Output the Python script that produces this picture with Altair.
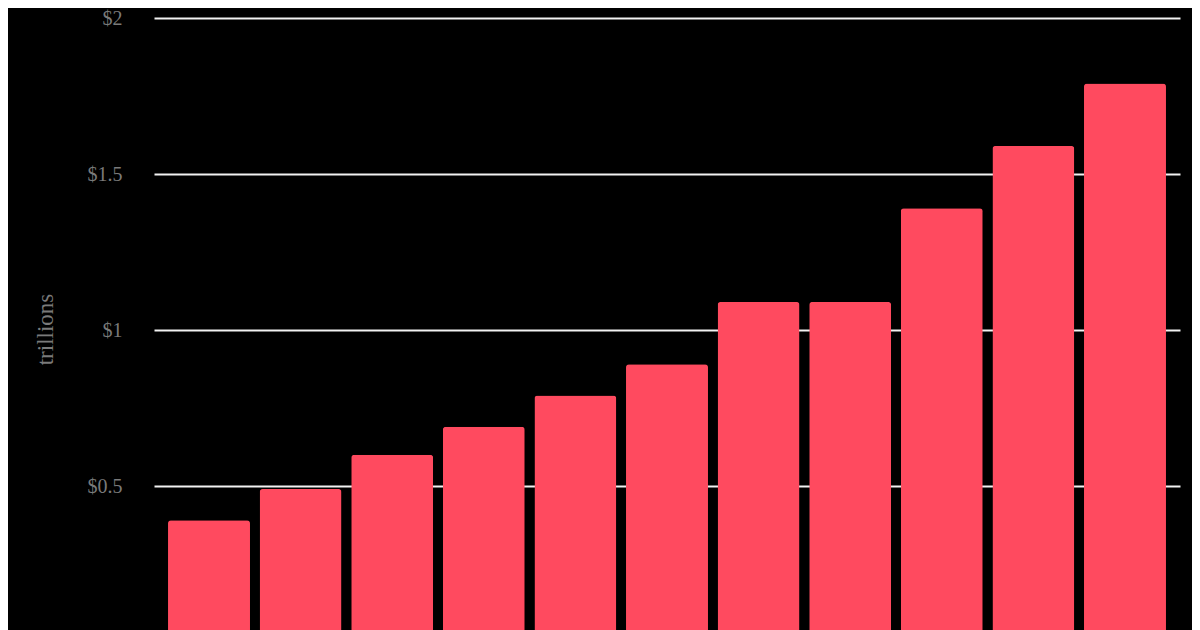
import altair as alt
import pandas as pd

categories = ["1", "2", "3", "4", "5", "6", "7", "8", "9", "10", "11"]
values = [0.39, 0.49, 0.6, 0.69, 0.79, 0.89, 1.09, 1.09, 1.39, 1.59, 1.79]
y_ticks = [0.5, 1, 1.5, 2]

df = pd.DataFrame({"cat": categories, "value": values})

chart = alt.Chart(df).mark_bar(
    color="#FF4A5F", cornerRadiusTopLeft=3, cornerRadiusTopRight=3
).encode(
    x=alt.X("cat:N", sort=categories, axis=None,
            scale=alt.Scale(paddingInner=0.105, paddingOuter=0.153)),
    y=alt.Y("value:Q",
            scale=alt.Scale(domain=[0, 2], nice=False),
            axis=alt.Axis(
                values=y_ticks, title="trillions",
                labelExpr="'$' + datum.value",
                grid=True, gridColor="#f2f2f2", gridWidth=2,
                domain=False, ticks=False, tickSize=0,
                labelPadding=32, labelFont="Liberation Serif", labelFontSize=20,
                labelColor="#7a7a7a",
                titleFont="Liberation Serif", titleFontSize=23, titleFontWeight="normal",
                titleColor="#7a7a7a", titleAngle=270, titleX=-109, titleY=311,
                titleAlign="center", titleBaseline="middle",
            )),
).properties(
    width=1026, height=624,
    background="#000000",
    autosize=alt.AutoSizeParams(type="none"),
    padding={"left": 146, "top": 10, "right": 12, "bottom": 0},
).configure_view(stroke=None)

chart.save("out.html", embed_options={"renderer": "svg", "actions": False})
